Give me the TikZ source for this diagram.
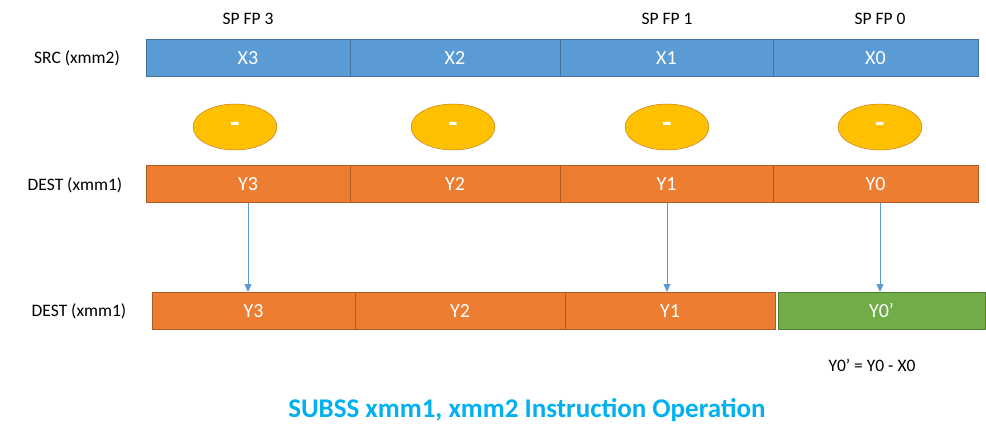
\documentclass[tikz,border=0pt]{standalone}
\usepackage{fontspec}
\setmainfont{Carlito}
\usetikzlibrary{arrows.meta,shapes.geometric}
\definecolor{cblue}{HTML}{5B9BD5}
\definecolor{cblueb}{HTML}{41719C}
\definecolor{corange}{HTML}{ED7D31}
\definecolor{coranb}{HTML}{AE5A21}
\definecolor{cgreen}{HTML}{70AD47}
\definecolor{cgreenb}{HTML}{507E32}
\definecolor{cgold}{HTML}{FFC000}
\definecolor{ctitle}{HTML}{00B0F0}
\begin{document}
\begin{tikzpicture}[x=1pt,y=-1pt,
  cell/.style={draw,line width=1pt,minimum height=37pt,inner sep=0pt,text=white,font=\fontsize{20}{22}\selectfont},
  src/.style={cell,fill=cblue,draw=cblueb},
  dst/.style={cell,fill=corange,draw=coranb},
  res/.style={cell,fill=cgreen,draw=cgreenb},
  op/.style={ellipse,draw=coranb!80!cgold,fill=cgold,minimum width=84pt,minimum height=46pt,inner sep=0pt,text=white,font=\bfseries\fontsize{30}{30}\selectfont},
  lbl/.style={font=\fontsize{17.5}{20}\selectfont},
  arr/.style={-{Triangle[length=8pt,width=7pt]},draw=cblue,line width=0.8pt}]
\useasboundingbox (0,0) rectangle (986,428);
% source register
\foreach \a/\b/\n/\t in {146/350/s3/X3,350/560/s2/X2,560/773/s1/X1,773/978/s0/X0}{
  \node[src,minimum width=\b-\a] (\n) at ({(\a+\b)/2},58.5) {\t};
}
% operators
\foreach \x/\n in {235/o3,453/o2,667/o1,880/o0}{
  \node[op] (\n) at (\x,127) {-};
}
% destination register
\foreach \a/\b/\n/\t in {146/350/d3/Y3,350/560/d2/Y2,560/773/d1/Y1,773/978/d0/Y0}{
  \node[dst,minimum width=\b-\a] (\n) at ({(\a+\b)/2},184) {\t};
}
% result
\foreach \a/\b/\n/\t in {152/355/r3/Y3,355/565/r2/Y2,565/775/r1/Y1}{
  \node[dst,minimum width=\b-\a] (\n) at ({(\a+\b)/2},311) {\t};
}
\node[res,minimum width=207pt] (r0) at (881.5,311) {Y0'};
% lanes
\coordinate (a3) at (248,203); \coordinate (b3) at (248,292);
\coordinate (a1) at (667,203); \coordinate (b1) at (667,292);
\coordinate (a0) at (880,203); \coordinate (b0) at (880,292);
\foreach \n in {3,1,0}{ \draw[arr] (a\n) -- (b\n); }
% labels
\node[lbl] (f3) at (248,19) {SP FP 3};
\node[lbl] (f1) at (667,19) {SP FP 1};
\node[lbl] (f0) at (880,19) {SP FP 0};
\node[lbl] (l1) at (77,58) {SRC (xmm2)};
\node[lbl] (l2) at (75,185) {DEST (xmm1)};
\node[lbl] (l3) at (79,311) {DEST (xmm1)};
\node[lbl] (eq) at (872,365) {Y0' = Y0 - X0};
\node[font=\bfseries\fontsize{27}{30}\selectfont,text=ctitle] (title) at (527,410) {SUBSS xmm1, xmm2 Instruction Operation};
\end{tikzpicture}
\end{document}
